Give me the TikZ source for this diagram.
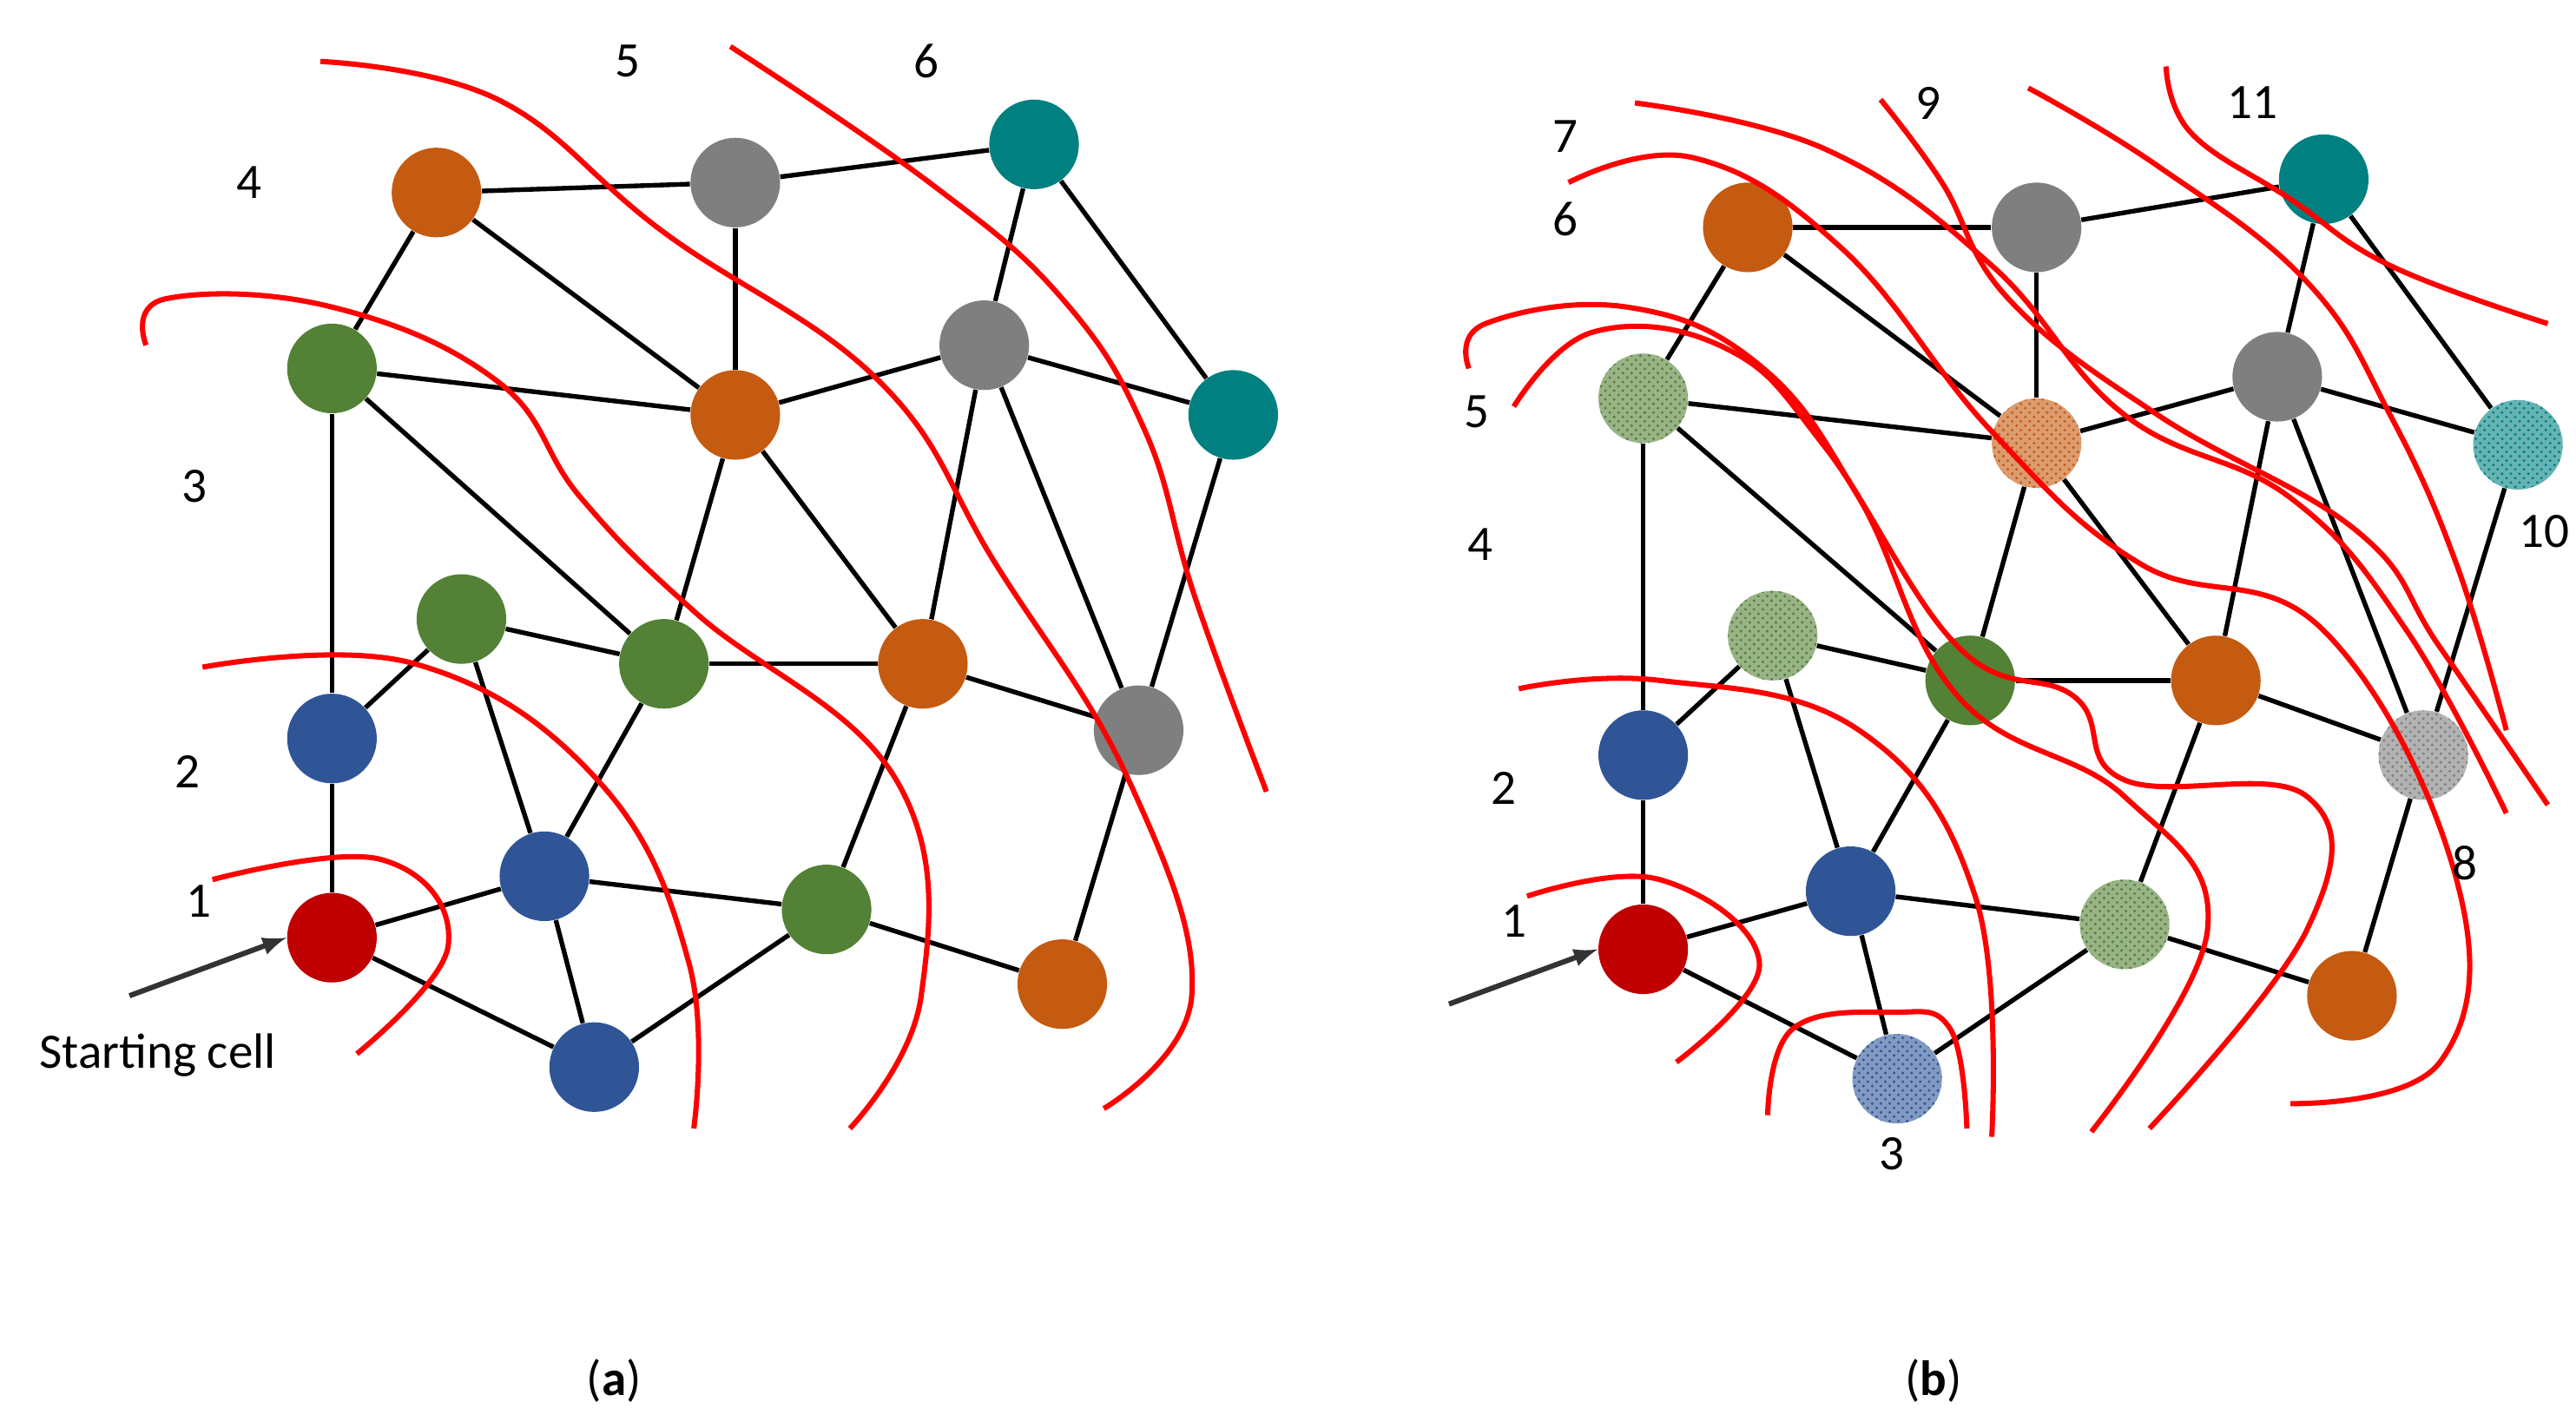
\documentclass[tikz,border=0pt]{standalone}
\usepackage{fontspec}
\setmainfont{Carlito}
\usetikzlibrary{positioning, patterns}

\definecolor{cRed}{HTML}{C00000}
\definecolor{cBlue}{HTML}{2F5597}
\definecolor{cGreen}{HTML}{538135}
\definecolor{cOrange}{HTML}{C55A11}
\definecolor{cGray}{HTML}{7F7F7F}
\definecolor{cTeal}{HTML}{008080}

\tikzset{
    cell/.style={circle, minimum size=1.08cm, inner sep=0pt, fill=#1},
    dcell/.style={circle, minimum size=1.08cm, inner sep=0pt, preaction={fill=#1!60!white},
        pattern=crosshatch dots, pattern color=#1},
    link/.style={black, line width=1.6pt},
    cut/.style={red, line width=1.8pt},
    lab/.style={font=\fontsize{17}{20}\selectfont}
}

\begin{document}
\begin{tikzpicture}[x=0.02cm, y=-0.02cm]
    \useasboundingbox (0,0) rectangle (1552,860);

    %% (a)
    % Cells
    \node[cell=cRed] (a1) at (200,565) {};
    \node[cell=cBlue] (a2) at (200,445) {};
    \node[cell=cGreen] (a3) at (278,373) {};
    \node[cell=cBlue] (a4) at (328,528) {};
    \node[cell=cBlue] (a5) at (358,643) {};
    \node[cell=cGreen] (a6) at (200,222) {};
    \node[cell=cOrange] (a7) at (263,116) {};
    \node[cell=cGray] (a8) at (443,110) {};
    \node[cell=cTeal] (a9) at (623,87) {};
    \node[cell=cGray] (a10) at (593,208) {};
    \node[cell=cOrange] (a11) at (443,250) {};
    \node[cell=cTeal] (a12) at (743,250) {};
    \node[cell=cGreen] (a13) at (400,400) {};
    \node[cell=cOrange] (a14) at (556,400) {};
    \node[cell=cGray] (a15) at (686,440) {};
    \node[cell=cGreen] (a16) at (498,548) {};
    \node[cell=cOrange] (a17) at (640,593) {};

    %% (b)
    % Cells
    \node[cell=cRed] (b1) at (990,572) {};
    \node[cell=cBlue] (b2) at (990,455) {};
    \node[dcell=cGreen] (b3) at (1068,383) {};
    \node[cell=cBlue] (b4) at (1115,537) {};
    \node[dcell=cBlue] (b5) at (1143,650) {};
    \node[dcell=cGreen] (b6) at (990,240) {};
    \node[cell=cOrange] (b7) at (1053,137) {};
    \node[cell=cGray] (b8) at (1227,137) {};
    \node[cell=cTeal] (b9) at (1400,108) {};
    \node[cell=cGray] (b10) at (1372,227) {};
    \node[dcell=cOrange] (b11) at (1227,267) {};
    \node[dcell=cTeal] (b12) at (1517,268) {};
    \node[cell=cGreen] (b13) at (1187,410) {};
    \node[cell=cOrange] (b14) at (1335,410) {};
    \node[dcell=cGray] (b15) at (1460,455) {};
    \node[dcell=cGreen] (b16) at (1280,557) {};
    \node[cell=cOrange] (b17) at (1417,600) {};

    % Links
    \foreach \g in {a, b}
        \foreach \i/\j in {1/2, 1/4, 1/5, 2/3, 2/6, 6/7, 6/11, 6/13, 7/8, 7/11, 8/9, 8/11,
                           9/10, 9/12, 10/11, 10/12, 10/14, 10/15, 11/13, 11/14, 12/15,
                           3/13, 3/4, 13/4, 13/14, 14/15, 14/16, 4/5, 4/16, 5/16, 16/17, 15/17}
            \draw[link] (\g\i) -- (\g\j);

    % Cuts (a)
    \draw[cut] plot[smooth, tension=0.7] coordinates {(128,530) (230,518) (270,570) (215,635)};
    \draw[cut] plot[smooth, tension=0.7] coordinates {(122,402) (250,400) (360,470) (415,580) (418,680)};
    \draw[cut] plot[smooth, tension=0.7] coordinates {(88,208) (100,180) (200,185) (300,230) (350,300)
        (420,370) (540,470) (555,600) (512,680)};
    \draw[cut] plot[smooth, tension=0.7] coordinates {(193,37) (300,60) (400,140) (530,230) (600,340)
        (680,470) (718,600) (665,668)};
    \draw[cut] plot[smooth, tension=0.7] coordinates {(440,28) (560,110) (640,180) (690,260) (720,360) (763,477)};

    % Cuts (b)
    \draw[cut] plot[smooth, tension=0.7] coordinates {(920,540) (1000,530) (1060,580) (1010,640)};
    \draw[cut] plot[smooth, tension=0.7] coordinates {(1065,672) (1080,620) (1140,610) (1175,620) (1185,680)};
    \draw[cut] plot[smooth, tension=0.7] coordinates {(915,415) (1000,410) (1120,440) (1190,540) (1200,685)};
    \draw[cut] plot[smooth, tension=0.7] coordinates {(885,222) (895,195) (980,185) (1060,220) (1120,300)
        (1180,420) (1280,480) (1330,560) (1260,682)};
    \draw[cut] plot[smooth, tension=0.7] coordinates {(912,245) (960,200) (1040,210) (1100,270) (1180,390)
        (1250,420) (1280,470) (1390,480) (1390,560) (1295,680)};
    \draw[cut] plot[smooth, tension=0.7] coordinates {(945,110) (1020,95) (1110,150) (1200,260) (1290,340)
        (1400,380) (1480,530) (1470,640) (1380,665)};
    \draw[cut] plot[smooth, tension=0.7] coordinates {(985,62) (1100,90) (1200,160) (1280,250) (1380,300)
        (1450,380) (1510,490)};
    \draw[cut] plot[smooth, tension=0.7] coordinates {(1133,60) (1170,110) (1210,180) (1300,250) (1420,320)
        (1470,390) (1535,485)};
    \draw[cut] plot[smooth, tension=0.7] coordinates {(1222,53) (1300,100) (1390,170) (1440,250) (1480,340)
        (1510,440)};
    \draw[cut] plot[smooth, tension=0.7] coordinates {(1305,40) (1320,80) (1380,120) (1440,160) (1535,195)};

    % Labels (a)
    \node[lab] (la4) at (150,110) {4};
    \node[lab] (la5) at (378,37) {5};
    \node[lab] (la6) at (558,37) {6};
    \node[lab] (la3) at (117,293) {3};
    \node[lab] (la2) at (113,465) {2};
    \node[lab] (la1) at (120,543) {1};
    \node[lab] (start) at (95,636) {Starting cell};
    \coordinate (sa) at (78,600);
    \draw[-latex, line width=1.8pt, black!80] (sa) -- (a1.west);
    \node[lab] (capa) at (370,832) {(\textbf{a})};

    % Labels (b)
    \node[lab] (lb7) at (943,82) {7};
    \node[lab] (lb6) at (943,132) {6};
    \node[lab] (lb9) at (1162,62) {9};
    \node[lab] (lb11) at (1357,62) {11};
    \node[lab] (lb5) at (890,248) {5};
    \node[lab] (lb4) at (892,328) {4};
    \node[lab] (lb10) at (1533,320) {10};
    \node[lab] (lb2) at (906,475) {2};
    \node[lab] (lb8) at (1485,520) {8};
    \node[lab] (lb1) at (912,555) {1};
    \node[lab] (lb3) at (1140,695) {3};
    \coordinate (sb) at (873,605);
    \draw[-latex, line width=1.8pt, black!80] (sb) -- (b1.west);
    \node[lab] (capb) at (1165,832) {(\textbf{b})};
\end{tikzpicture}
\end{document}
